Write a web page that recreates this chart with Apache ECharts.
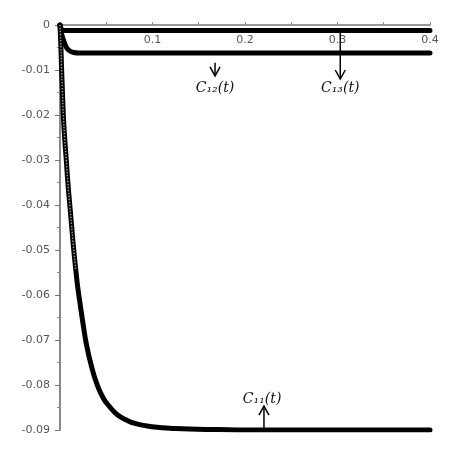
<!DOCTYPE html>
<html><head><meta charset="utf-8">
<script src="https://cdn.jsdelivr.net/npm/echarts@6/dist/echarts.min.js"></script>
<style>html,body{margin:0;padding:0;background:#fff}#c{width:474px;height:465px}</style>
</head><body><div id="c"></div>
<script>
// C11(t)
const t11 = [0, 0.0005, 0.001, 0.0016, 0.0025, 0.0036, 0.005, 0.0068, 0.0085, 0.0108, 0.0125, 0.0144, 0.017, 0.019, 0.0216, 0.025, 0.0288, 0.034, 0.0396, 0.047, 0.054, 0.062, 0.072, 0.082, 0.094, 0.105, 0.119, 0.14, 0.17, 0.2, 0.4];
const c11 = [0, -0.0025, -0.005, -0.009, -0.014, -0.02, -0.025, -0.03, -0.035, -0.0405, -0.0445, -0.049, -0.0543, -0.058, -0.0618, -0.0665, -0.0712, -0.0758, -0.0796, -0.083, -0.0849, -0.0866, -0.0878, -0.0886, -0.0891, -0.0894, -0.0896, -0.0898, -0.0899, -0.09, -0.09];
// C12(t)
const t12 = [0, 0.001, 0.002, 0.0036, 0.006, 0.008, 0.011, 0.015, 0.02, 0.03, 0.4];
const c12 = [0, -0.0012, -0.0022, -0.0033, -0.0046, -0.0053, -0.0058, -0.0061, -0.0062, -0.0062, -0.0062];
// C13(t)
const t13 = [0, 0.001, 0.002, 0.004, 0.4];
const c13 = [0, -0.0007, -0.001, -0.0012, -0.0012];
// annotations
const annNames = ['C₁₁(t)', 'C₁₂(t)', 'C₁₃(t)'];
const annT = [0.2205, 0.1676, 0.303];
const annFrom = [-0.09, -0.0084, -0.0013];
const annTo = [-0.0847, -0.0113, -0.012];
const annTextT = [0.2185, 0.1676, 0.303];
const annTextV = [-0.0831, -0.0141, -0.0141];

const pairs = (xs, ys) => xs.map((x, i) => [x, ys[i]]);
const chart = echarts.init(document.getElementById('c'));
const lab = {color: '#555', fontFamily: 'DejaVu Sans', fontSize: 11};
chart.setOption({
  animation: false,
  grid: {left: 60, top: 25, width: 370, height: 405},
  xAxis: {
    type: 'value', min: 0, max: 0.4, interval: 0.1, position: 'top',
    axisLine: {lineStyle: {color: '#999', width: 2}},
    axisTick: {show: true, length: 3, lineStyle: {color: '#888'}},
    minorTick: {show: true, splitNumber: 2, length: 3, lineStyle: {color: '#888'}},
    splitLine: {show: false},
    axisLabel: Object.assign({inside: true, margin: 10, showMinLabel: false,
      formatter: v => v === 0 ? '' : String(+v.toFixed(1))}, lab)
  },
  yAxis: {
    type: 'value', min: -0.09, max: 0, interval: 0.01,
    axisLine: {show: true, lineStyle: {color: '#888', width: 2}},
    axisTick: {show: true, length: 5, lineStyle: {color: '#777'}},
    minorTick: {show: true, splitNumber: 2, length: 3, lineStyle: {color: '#888'}},
    splitLine: {show: false},
    axisLabel: Object.assign({margin: 10,
      formatter: v => Math.abs(v) < 1e-9 ? '0' : v.toFixed(2)}, lab)
  },
  series: [
    {type: 'line', data: pairs(t13, c13), showSymbol: false, smooth: 0.4,
     lineStyle: {color: '#000', width: 5, cap: 'round'}},
    {type: 'line', data: pairs(t12, c12), showSymbol: false, smooth: 0.4,
     lineStyle: {color: '#000', width: 5, cap: 'round'}},
    {type: 'line', data: pairs(t11, c11), showSymbol: false, smooth: 0.5,
     lineStyle: {color: '#000', width: 5, cap: 'round'}},
    {type: 'line', data: pairs(t11.slice(0, 13), c11.slice(0, 13)), showSymbol: false, smooth: 0.5,
     lineStyle: {color: '#999', width: 1.5, type: [1.5, 1.5]}}
  ]
});

const g = [];
annNames.forEach((name, i) => {
  const a = chart.convertToPixel({gridIndex: 0}, [annT[i], annFrom[i]]);
  const b = chart.convertToPixel({gridIndex: 0}, [annT[i], annTo[i]]);
  const dir = b[1] > a[1] ? 1 : -1;
  g.push({type: 'line', shape: {x1: a[0], y1: a[1], x2: b[0], y2: b[1]},
          style: {stroke: '#000', lineWidth: 1.5}, z: 10});
  g.push({type: 'polyline', shape: {points: [[b[0] - 5, b[1] - dir * 9], [b[0], b[1]], [b[0] + 5, b[1] - dir * 9]]},
          style: {stroke: '#000', lineWidth: 1.5, fill: null}, z: 10});
  const p = chart.convertToPixel({gridIndex: 0}, [annTextT[i], annTextV[i]]);
  g.push({type: 'text', x: p[0], y: p[1], z: 10,
          style: {text: name, fill: '#111', font: 'italic 14px "DejaVu Serif"', align: 'center', verticalAlign: 'middle'}});
});
chart.setOption({graphic: g});
</script></body></html>
